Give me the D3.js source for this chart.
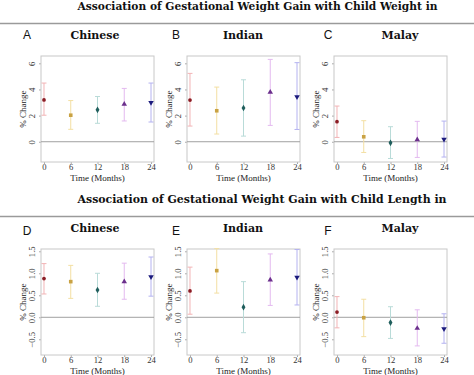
<!DOCTYPE html>
<html><head><meta charset="utf-8">
<script src="https://cdn.jsdelivr.net/npm/d3@7"></script>
<style>body{margin:0;background:#fff}svg{display:block}</style>
</head><body><svg id="c" width="474" height="375"></svg>
<script>
const times = [0, 6, 12, 18, 24];
const timeTicks = ["0", "6", "12", "18", "24"];
const groups = ["Chinese", "Indian", "Malay"];
const titles = ["Association of Gestational Weight Gain with Child Weight in",
                "Association of Gestational Weight Gain with Child Length in"];
const panelLetters = [["A", "B", "C"], ["D", "E", "F"]];
const weightTicks = [0, 2, 4, 6];
const lengthTicks = [-0.5, 0.0, 0.5, 1.0, 1.5];
const lengthTickLabels = ["\u22120.5", "0.0", "0.5", "1.0", "1.5"];

// Weight: estimate, lower, upper
const weightChinese = [[3.2, 2.03, 4.49], [2.03, 0.95, 3.15], [2.44, 1.41, 3.46], [2.87, 1.59, 4.08], [3.0, 1.51, 4.49]];
const weightIndian  = [[3.19, 1.2, 5.23], [2.37, 0.59, 4.18], [2.58, 0.43, 4.74], [3.8, 1.25, 6.3], [3.44, 0.94, 6.05]];
const weightMalay   = [[1.53, 0.33, 2.73], [0.38, -0.82, 1.61], [-0.08, -1.28, 1.15], [0.15, -1.2, 1.56], [0.18, -1.17, 1.58]];
// Length: estimate, lower, upper
const lengthChinese = [[0.88, 0.53, 1.22], [0.81, 0.43, 1.18], [0.62, 0.25, 1.0], [0.81, 0.41, 1.23], [0.92, 0.48, 1.37]];
const lengthIndian  = [[0.6, 0.07, 1.14], [1.06, 0.55, 1.56], [0.23, -0.35, 0.81], [0.85, 0.27, 1.44], [0.91, 0.28, 1.54]];
const lengthMalay   = [[0.12, -0.24, 0.47], [-0.01, -0.44, 0.41], [-0.12, -0.48, 0.24], [-0.25, -0.65, 0.17], [-0.26, -0.59, 0.08]];

const pointColors = ["#8b1c24", "#c9a243", "#1f5e5c", "#6b2f8c", "#1b1a7c"];
const barColors   = ["#f2b3b5", "#f3dfa2", "#b9dbd8", "#e3b9ef", "#b4b2f0"];
const shapes = [d3.symbolCircle, d3.symbolSquare, d3.symbolDiamond, d3.symbolTriangle, d3.symbolTriangle];

const svg = d3.select("#c");
const serif = "'Liberation Serif','Times New Roman',serif";
const titleFont = "'DejaVu Serif',serif";
const boxLefts = [41, 187, 334];
const headX = [95, 243, 400];
const letterX = [27, 176, 328];
const boxW = 113;
const rows = [
  {top: 56, h: 106, domain: [-1.55, 6.56], ticks: weightTicks, tickLabels: weightTicks.map(String),
   data: [weightChinese, weightIndian, weightMalay], titleY: 10, titleX: 257.5, titleW: 360, ruleY: 23.5, headY: 39, letterY: 39},
  {top: 249, h: 106, domain: [-0.857, 1.552], ticks: lengthTicks, tickLabels: lengthTickLabels,
   data: [lengthChinese, lengthIndian, lengthMalay], titleY: 202.5, titleX: 262, titleW: 369, ruleY: 216.5, headY: 231.5, letterY: 235}
];

rows.forEach((row, ri) => {
  svg.append("text").attr("x", row.titleX).attr("y", row.titleY).attr("text-anchor", "middle")
    .attr("font-family", titleFont).attr("font-weight", "bold").attr("font-size", 10.5)
    .attr("textLength", row.titleW).attr("lengthAdjust", "spacingAndGlyphs")
    .attr("fill", "#111").text(titles[ri]);
  svg.append("line").attr("x1", 0).attr("x2", 474).attr("y1", row.ruleY).attr("y2", row.ruleY)
    .attr("stroke", "#9a9a9a").attr("stroke-width", 1.5);

  groups.forEach((g, gi) => {
    const x0 = boxLefts[gi];
    const x = d3.scaleLinear().domain([-0.67, 24.67]).range([x0, x0 + boxW]);
    const y = d3.scaleLinear().domain(row.domain).range([row.top + row.h, row.top]);
    const p = svg.append("g");

    p.append("text").attr("x", letterX[gi]).attr("y", row.letterY).attr("text-anchor", "middle")
      .attr("font-family", "'Liberation Sans',Arial,sans-serif").attr("font-size", 12)
      .attr("fill", "#111").text(panelLetters[ri][gi]);
    p.append("text").attr("x", headX[gi]).attr("y", row.headY).attr("text-anchor", "middle")
      .attr("font-family", titleFont).attr("font-weight", "bold").attr("font-size", 11)
      .attr("fill", "#111").text(g);

    // axes
    const xAxis = d3.axisBottom(x).tickValues(times).tickFormat((d, i) => timeTicks[i]).tickSizeOuter(0).tickSize(2).tickPadding(0);
    const xa = p.append("g").attr("transform", `translate(0,${row.top + row.h})`).call(xAxis);
    const yAxis = d3.axisLeft(y).tickValues(row.ticks).tickFormat((d, i) => row.tickLabels[i]).tickSizeOuter(0).tickSize(2);
    const ya = p.append("g").attr("transform", `translate(${x0},0)`).call(yAxis);
    [xa, ya].forEach(a => {
      a.select(".domain").remove();
      a.selectAll("line").attr("stroke", "#aaa");
      a.selectAll("text").attr("font-family", serif).attr("font-size", 8.6).attr("fill", "#333");
    });
    ya.selectAll("text").attr("text-anchor", "middle").attr("dy", null)
      .attr("x", 0).attr("y", 0)
      .attr("transform", "translate(-6,0) rotate(-90)");

    // box
    p.append("rect").attr("x", x0).attr("y", row.top).attr("width", boxW).attr("height", row.h)
      .attr("fill", "none").attr("stroke", "#c8c8c8").attr("stroke-width", 1);
    // zero line
    p.append("line").attr("x1", x0).attr("x2", x0 + boxW).attr("y1", y(0)).attr("y2", y(0))
      .attr("stroke", "#a0a0a0").attr("stroke-width", 1);

    // labels
    p.append("text").attr("x", x0 + boxW / 2).attr("y", row.top + row.h + 18.5)
      .attr("text-anchor", "middle").attr("font-family", serif).attr("font-size", 9)
      .attr("fill", "#222").text("Time (Months)");
    p.append("text").attr("transform", `translate(${x0 - 15},${row.top + row.h / 2}) rotate(-90)`)
      .attr("text-anchor", "middle").attr("font-family", serif).attr("font-size", 9)
      .attr("fill", "#222").text("% Change");

    // error bars
    const data = row.data[gi];
    const eb = p.append("g").selectAll("g").data(data).join("g");
    eb.append("line").attr("x1", (d, i) => x(times[i])).attr("x2", (d, i) => x(times[i]))
      .attr("y1", d => y(d[1])).attr("y2", d => y(d[2]))
      .attr("stroke", (d, i) => barColors[i]).attr("stroke-width", 1);
    eb.append("line").attr("x1", (d, i) => x(times[i]) - 2.5).attr("x2", (d, i) => x(times[i]) + 2.5)
      .attr("y1", d => y(d[1])).attr("y2", d => y(d[1]))
      .attr("stroke", (d, i) => barColors[i]).attr("stroke-width", 1);
    eb.append("line").attr("x1", (d, i) => x(times[i]) - 2.5).attr("x2", (d, i) => x(times[i]) + 2.5)
      .attr("y1", d => y(d[2])).attr("y2", d => y(d[2]))
      .attr("stroke", (d, i) => barColors[i]).attr("stroke-width", 1);
    eb.append("path")
      .attr("d", (d, i) => d3.symbol().type(shapes[i]).size(i === 0 ? 11 : 13)())
      .attr("transform", (d, i) => `translate(${x(times[i])},${y(d[0])})${i === 4 ? " rotate(180)" : ""}`)
      .attr("fill", (d, i) => pointColors[i]);
  });
});
</script></body></html>
